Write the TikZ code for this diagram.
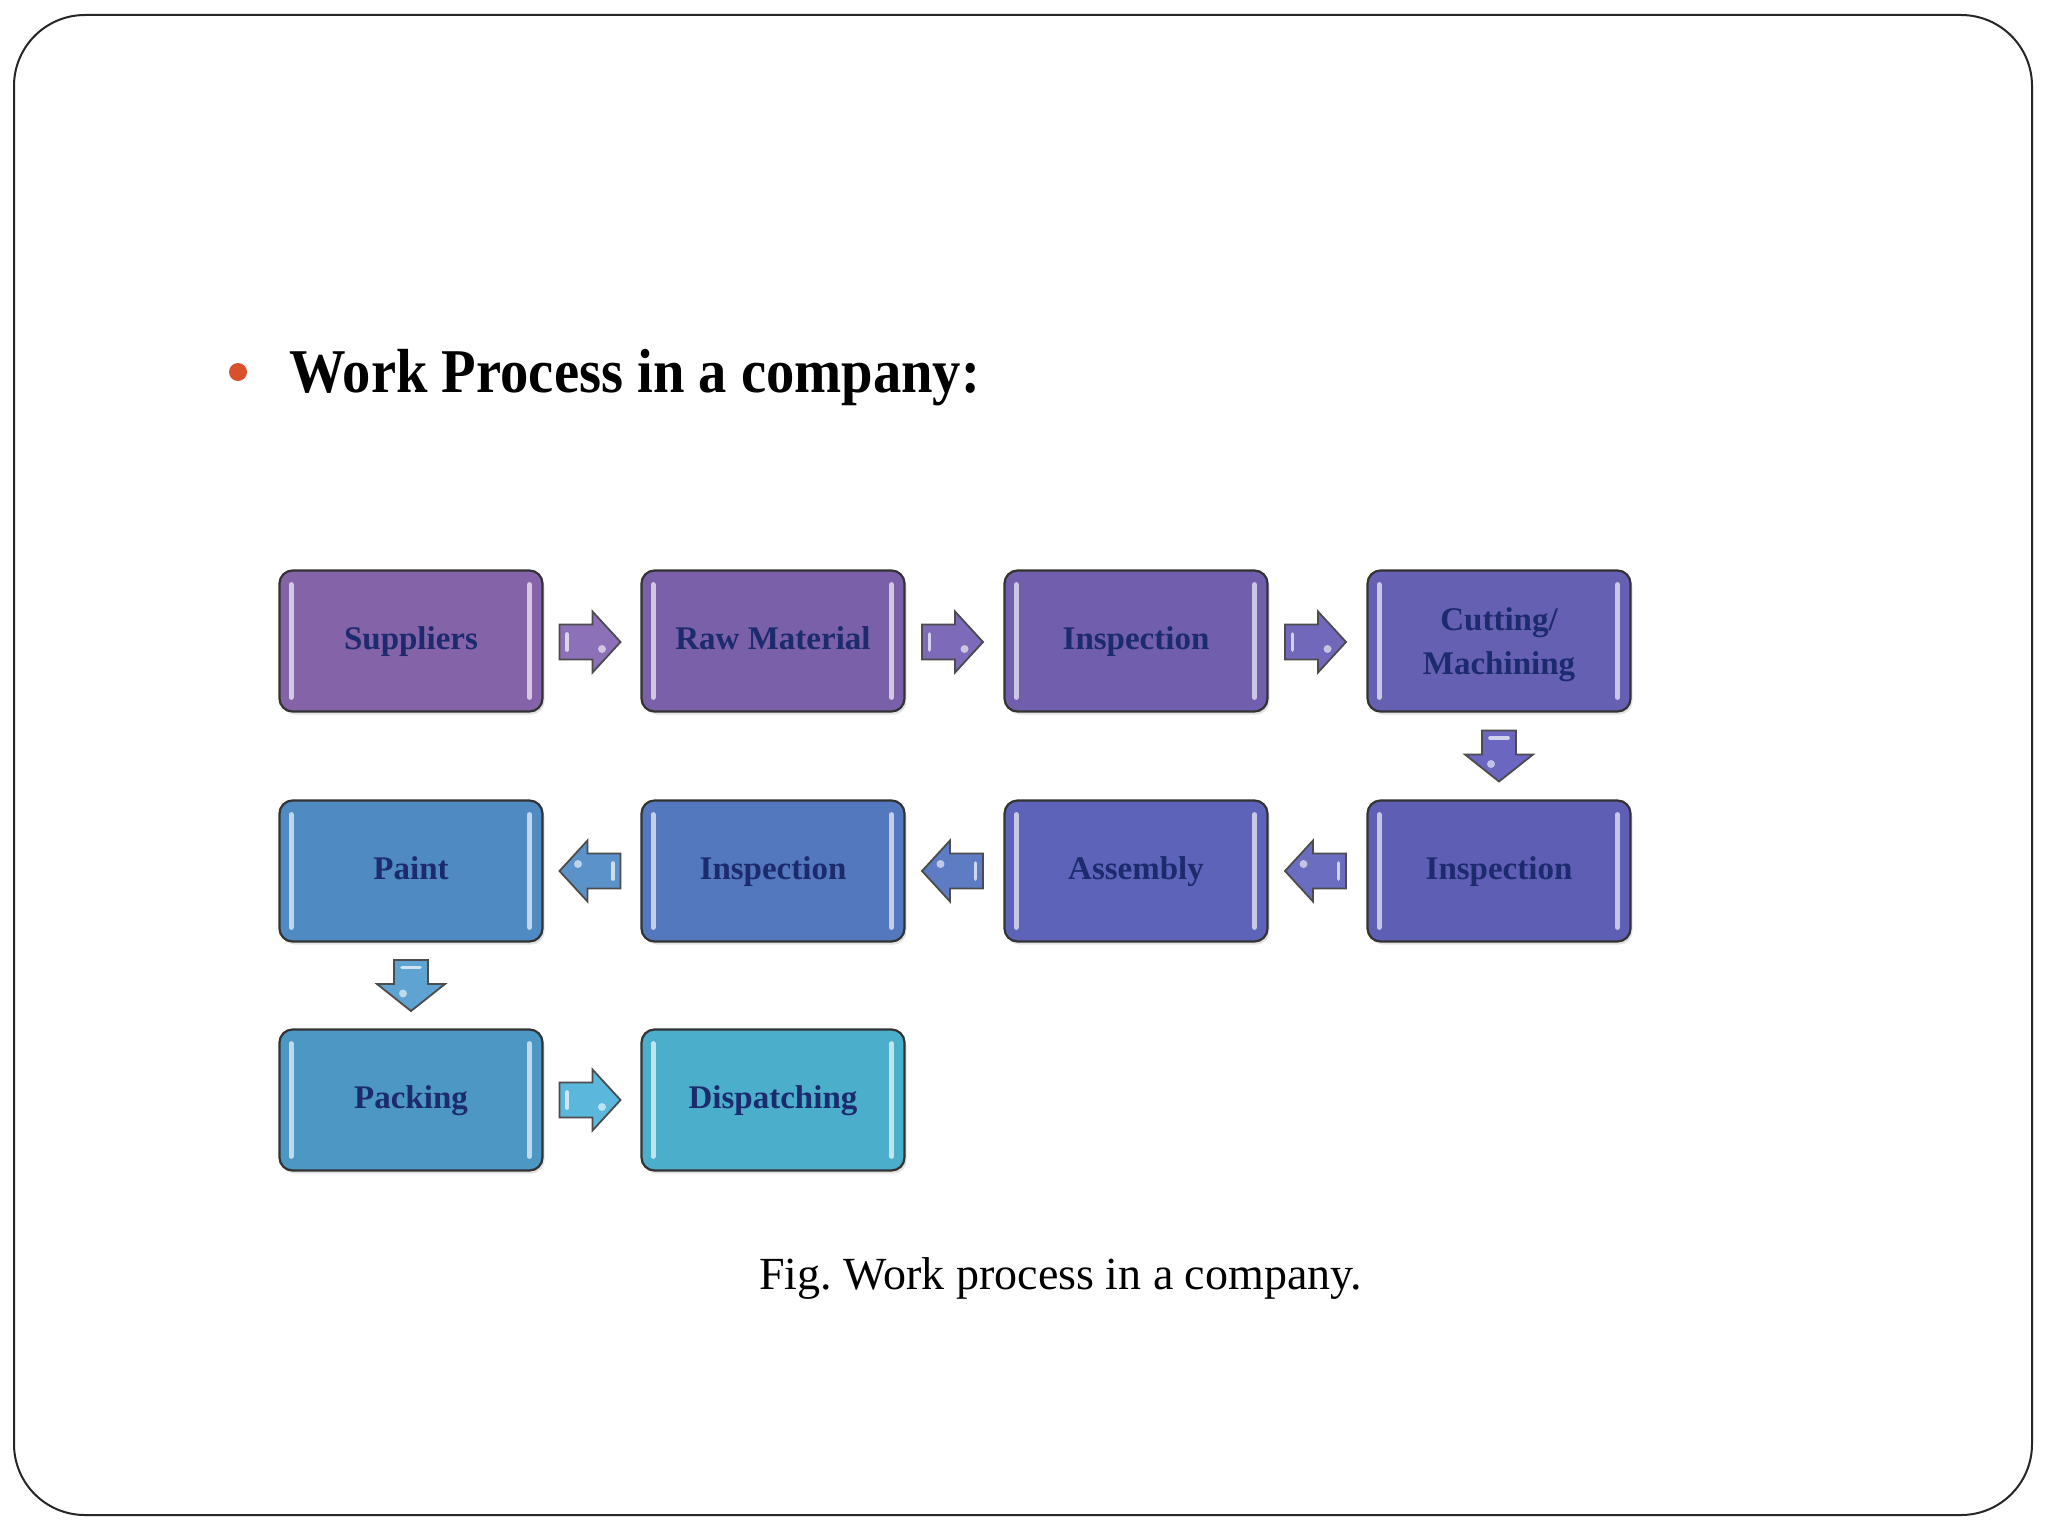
\documentclass[tikz,border=0pt]{standalone}
\usepackage{fontspec}
\setmainfont{Liberation Serif}
\usepackage{graphicx}
\usetikzlibrary{calc,shadows}

\definecolor{cSup}{HTML}{8463A8}
\definecolor{cRaw}{HTML}{7A60A9}
\definecolor{cInA}{HTML}{715EAD}
\definecolor{cCut}{HTML}{6660B3}
\definecolor{cInB}{HTML}{5E5EB4}
\definecolor{cAsm}{HTML}{5C63B8}
\definecolor{cInC}{HTML}{5478BE}
\definecolor{cPnt}{HTML}{4F8AC2}
\definecolor{cPck}{HTML}{4C97C4}
\definecolor{cDsp}{HTML}{4BAFCB}
\definecolor{aA}{HTML}{8C70B8}
\definecolor{aB}{HTML}{7D6AB8}
\definecolor{aC}{HTML}{7168BC}
\definecolor{aD}{HTML}{6B66C0}
\definecolor{aE}{HTML}{6A6DC0}
\definecolor{aF}{HTML}{5E7CC3}
\definecolor{aG}{HTML}{5C92CA}
\definecolor{aH}{HTML}{5FA3D2}
\definecolor{aI}{HTML}{5BB7DC}
\definecolor{boxtext}{HTML}{1C2A6E}
\definecolor{bulletc}{HTML}{D9512C}

\newcommand\boxstrut{\rule[-3.6pt]{0pt}{15.3pt}}
\newcommand\topstrut{\rule{0pt}{15.5pt}}

\newcommand\myharrow[3]{%
  \begin{scope}[shift={#1},rotate=#2]
    \filldraw[arrowsty,fill=#3] (-30.5,-17.5) -- (2.5,-17.5) -- (2.5,-30.5) -- (30.5,0) -- (2.5,30.5) -- (2.5,17.5) -- (-30.5,17.5) -- cycle;
    \draw[white,opacity=0.7,line width=1.8pt,line cap=round] (-23,-8) -- (-23,8);
    \fill[white,opacity=0.6] (12,7) circle[radius=4];
  \end{scope}}
\newcommand\myvarrow[3]{%
  \begin{scope}[shift={#1},rotate=#2]
    \filldraw[arrowsty,fill=#3] (-25.5,-17) -- (-1.5,-17) -- (-1.5,-34) -- (25.5,0) -- (-1.5,34) -- (-1.5,17) -- (-25.5,17) -- cycle;
    \draw[white,opacity=0.7,line width=1.8pt,line cap=round] (-18,-9) -- (-18,9);
    \fill[white,opacity=0.6] (8,8) circle[radius=4];
  \end{scope}}

\tikzset{
  frame/.style={draw=black!85,line width=1pt,rounded corners=35.5pt},
  procbox/.style={draw=black!80,line width=1.1pt,rounded corners=6.5pt,
    minimum width=131.5pt,minimum height=70.5pt,inner sep=0pt,align=center,
    text=boxtext,font=\bfseries\fontsize{16.5}{22}\selectfont,
    drop shadow={opacity=0.22,shadow xshift=1pt,shadow yshift=-1.5pt},
    path picture={
      \draw[white,opacity=0.65,line width=2.4pt,line cap=round]
        ([xshift=5.8pt,yshift=-7pt]path picture bounding box.north west) --
        ([xshift=5.8pt,yshift=7pt]path picture bounding box.south west);
      \draw[white,opacity=0.65,line width=2.4pt,line cap=round]
        ([xshift=-6.5pt,yshift=-7pt]path picture bounding box.north east) --
        ([xshift=-6.5pt,yshift=7pt]path picture bounding box.south east);
    }},
  arrowsty/.style={draw=black!70,line width=0.9pt,line join=miter},
  titletext/.style={font=\bfseries\fontsize{28.3}{32}\selectfont,anchor=base west,inner sep=0pt},
  captiontext/.style={font=\fontsize{23}{26}\selectfont,anchor=base west,inner sep=0pt}
}

\begin{document}
\begin{tikzpicture}[x=0.5pt,y=-0.5pt]
  \useasboundingbox (0,0) rectangle (2048,1536);
  \fill[white] (0,0) rectangle (2048,1536);
  \draw[frame] (14,15) rectangle (2032,1515);

  % title
  \fill[bulletc] (238,372) circle[radius=9];
  \node[titletext] (title) at (289,392) {\scalebox{1}[1.1]{Work Process in a company:}};

  % boxes
  \node[procbox,fill=cSup] (sup) at (411,641) {\boxstrut Suppliers};
  \node[procbox,fill=cRaw] (raw) at (773,641) {\boxstrut Raw Material};
  \node[procbox,fill=cInA] (insa) at (1136,641) {\boxstrut Inspection};
  \node[procbox,fill=cCut] (cut) at (1499,641) {\topstrut Cutting/\\Machining};
  \node[procbox,fill=cInB] (insb) at (1499,871) {\boxstrut Inspection};
  \node[procbox,fill=cAsm] (asm) at (1136,871) {\boxstrut Assembly};
  \node[procbox,fill=cInC] (insc) at (773,871) {\boxstrut Inspection};
  \node[procbox,fill=cPnt] (pnt) at (411,871) {\boxstrut Paint};
  \node[procbox,fill=cPck] (pck) at (411,1100) {\boxstrut Packing};
  \node[procbox,fill=cDsp] (dsp) at (773,1100) {\boxstrut Dispatching};

  % block arrows between boxes
  \myharrow{($(sup.east)!0.5!(raw.west)+(-2,1)$)}{0}{aA}
  \myharrow{($(raw.east)!0.5!(insa.west)+(-2,1)$)}{0}{aB}
  \myharrow{($(insa.east)!0.5!(cut.west)+(-2,1)$)}{0}{aC}
  \myvarrow{($(cut.south)!0.5!(insb.north)$)}{-90}{aD}
  \myharrow{($(insb.west)!0.5!(asm.east)+(-2,0)$)}{180}{aE}
  \myharrow{($(asm.west)!0.5!(insc.east)+(-2,0)$)}{180}{aF}
  \myharrow{($(insc.west)!0.5!(pnt.east)+(-2,0)$)}{180}{aG}
  \myvarrow{($(pnt.south)!0.5!(pck.north)$)}{-90}{aH}
  \myharrow{($(pck.east)!0.5!(dsp.west)+(-2,0)$)}{0}{aI}

  % caption
  \node[captiontext] (caption) at (759,1289) {Fig.\ Work process in a company.};
\end{tikzpicture}
\end{document}
